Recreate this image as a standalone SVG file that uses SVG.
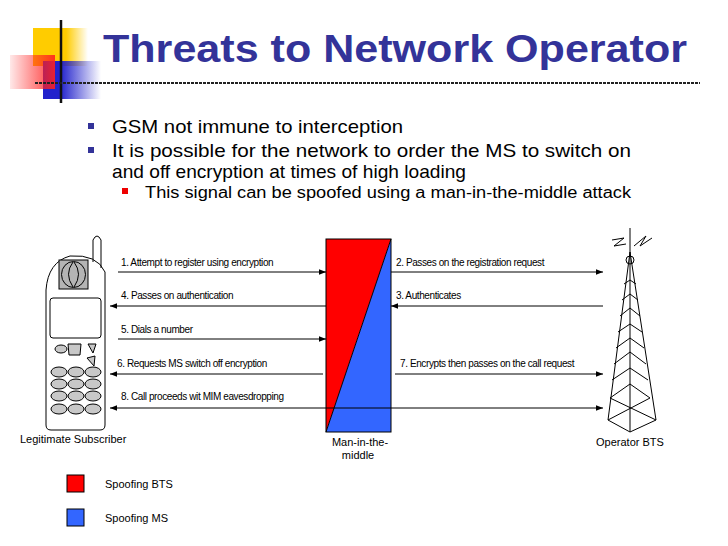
<svg xmlns="http://www.w3.org/2000/svg" width="728" height="546" viewBox="0 0 728 546">
<defs>
<style>
.t{font-family:"Liberation Sans",Arial,sans-serif}
.s{font-family:"Liberation Sans",Arial,sans-serif;font-size:10px;letter-spacing:-0.4px;fill:#000}
.c{stroke:#000;stroke-width:1;fill:none}
.k{fill:#c8c8c8;stroke:#000;stroke-width:1}
</style>
<marker id="a" viewBox="0 0 10 10" refX="10" refY="5" markerWidth="9" markerHeight="7" orient="auto-start-reverse"><path d="M0,1 L10,5 L0,9 z" fill="#000"/></marker>
<linearGradient id="gy" x1="0" x2="1"><stop offset="0.6" stop-color="#ffcc00"/><stop offset="1" stop-color="#ffcc00" stop-opacity="0"/></linearGradient>
<linearGradient id="gr" x1="1" x2="0"><stop offset="0" stop-color="#ff2020" stop-opacity="0.9"/><stop offset="1" stop-color="#ff2020" stop-opacity="0.1"/></linearGradient>
<linearGradient id="gb" x1="0" x2="1"><stop offset="0.3" stop-color="#2222cc"/><stop offset="1" stop-color="#2222cc" stop-opacity="0"/></linearGradient>
</defs>
<rect width="728" height="546" fill="#fff"/>
<g id="logo">
<rect x="33" y="28" width="55" height="38" fill="url(#gy)"/>
<rect x="43" y="61" width="58" height="38" fill="url(#gb)"/>
<rect x="10" y="55" width="45" height="34" fill="url(#gr)"/>
<line x1="61" y1="20" x2="61" y2="103" stroke="#111" stroke-width="2.5"/>
<line x1="35" y1="83" x2="700" y2="83" stroke="#222" stroke-width="2" stroke-dasharray="3,1"/>
</g>
<text class="t" x="103" y="62" font-size="39" font-weight="bold" fill="#333399" textLength="584" lengthAdjust="spacingAndGlyphs">Threats to Network Operator</text>
<g class="t" font-size="19" fill="#000">
<rect x="88" y="123" width="6" height="6" fill="#333399"/>
<text x="112" y="133" textLength="291" lengthAdjust="spacingAndGlyphs">GSM not immune to interception</text>
<rect x="88" y="147" width="6" height="6" fill="#333399"/>
<text x="112" y="157" textLength="519" lengthAdjust="spacingAndGlyphs">It is possible for the network to order the MS to switch on</text>
<text x="112" y="178" textLength="354" lengthAdjust="spacingAndGlyphs">and off encryption at times of high loading</text>
<rect x="122" y="188" width="6" height="6" fill="#ee0000"/>
<text x="145" y="198" font-size="16" textLength="486" lengthAdjust="spacingAndGlyphs">This signal can be spoofed using a man-in-the-middle attack</text>
</g>
<g id="phone">
<path class="c" d="M93,262 L93,240 Q97,232 101,240 L101,268"/>
<path class="c" d="M46,425 L46,290 Q48,262 70,256 Q97,254 105,272 L105,425 Q105,430 100,430 L51,430 Q46,430 46,425 Z"/>
<rect x="59" y="260" width="29" height="29" fill="#b4b4b4" stroke="#000"/>
<ellipse cx="73.5" cy="274.5" rx="12" ry="13" class="c"/>
<path class="c" d="M73,262 Q64,274 73,287 M74,262 Q83,274 74,287"/>
<rect x="50" y="298" width="51" height="40" rx="3" class="c"/>
<ellipse cx="61" cy="349" rx="6" ry="4" class="k"/>
<path class="k" d="M68,344 L81,344 L80,355 L69,355 Z"/>
<path class="k" d="M88,344 L96,344 L93,353 Z"/>
<path class="k" d="M87,358 L95,356 L94,366 Z"/>
<g class="k">
<ellipse cx="59" cy="372" rx="8" ry="5"/><ellipse cx="76" cy="372" rx="8" ry="5"/><ellipse cx="93" cy="372" rx="8" ry="5"/>
<ellipse cx="59" cy="384" rx="8" ry="5"/><ellipse cx="76" cy="384" rx="8" ry="5"/><ellipse cx="93" cy="384" rx="8" ry="5"/>
<ellipse cx="59" cy="396" rx="8" ry="5"/><ellipse cx="76" cy="396" rx="8" ry="5"/><ellipse cx="93" cy="396" rx="8" ry="5"/>
<ellipse cx="59" cy="409" rx="8" ry="5"/><ellipse cx="76" cy="409" rx="8" ry="5"/><ellipse cx="93" cy="409" rx="8" ry="5"/>
</g>
<text class="t" x="20" y="443" font-size="11">Legitimate Subscriber</text>
</g>
<g id="mitm">
<polygon points="326,239 391,239 326,432" fill="#ff0000"/>
<polygon points="391,239 391,432 326,432" fill="#3366ff"/>
<rect x="326" y="239" width="65" height="193" class="c"/>
<line x1="326" y1="432" x2="391" y2="239" stroke="#000"/>
<text class="t" x="360" y="446" font-size="11" text-anchor="middle">Man-in-the-</text>
<text class="t" x="358" y="459" font-size="11" text-anchor="middle">middle</text>
</g>
<g id="bts" class="c">
<path d="M630,252 L608,420 L630,432 L656,420 Z M630,252 L630,432"/>
<path d="M622,300 L630,294 L638,300 M620,316 L630,308 L640,316 M618,332 L630,324 L642,332 M616,348 L630,338 L644,348 M614,364 L630,352 L646,364 M612,380 L630,368 L648,380 M610,398 L630,384 L650,398 M624,284 L630,280 L636,284"/>
<path d="M610,398 L656,420 M650,398 L608,420"/>
<path d="M630,252 L630,228 M612,240 L624,238 L614,246 L626,244 M634,246 L646,236 L640,246 L652,238"/>
<circle cx="630" cy="260" r="4"/>
<text x="596" y="446" font-size="11" stroke="none" fill="#000" class="t">Operator BTS</text>
</g>
<g id="connectors" stroke="#000" stroke-width="1">
<line x1="118" y1="272" x2="326" y2="272" marker-end="url(#a)"/>
<line x1="391" y1="272" x2="603" y2="272" marker-end="url(#a)"/>
<line x1="326" y1="306" x2="110" y2="306" marker-end="url(#a)"/>
<line x1="603" y1="306" x2="391" y2="306" marker-end="url(#a)"/>
<line x1="118" y1="339" x2="326" y2="339" marker-end="url(#a)"/>
<line x1="323" y1="374" x2="110" y2="374" marker-end="url(#a)"/>
<line x1="395" y1="374" x2="603" y2="374" marker-end="url(#a)"/>
<line x1="110" y1="408" x2="603" y2="408" marker-start="url(#a)" marker-end="url(#a)"/>
</g>
<g>
<text class="s" x="121" y="266">1.  Attempt to register using encryption</text>
<text class="s" x="396" y="266">2.  Passes on the registration request</text>
<text class="s" x="121" y="299">4.  Passes on authentication</text>
<text class="s" x="396" y="299">3.  Authenticates</text>
<text class="s" x="121" y="333">5.  Dials a number</text>
<text class="s" x="117" y="367">6.  Requests MS switch off encryption</text>
<text class="s" x="400" y="367">7.  Encrypts then passes on the call request</text>
<text class="s" x="121" y="400">8.  Call proceeds wit MIM eavesdropping</text>
</g>
<g id="legend">
<rect x="67" y="475" width="17" height="17" fill="#ff0000" stroke="#000"/>
<text class="t" x="105" y="488" font-size="11">Spoofing BTS</text>
<rect x="67" y="509" width="17" height="17" fill="#3366ff" stroke="#000"/>
<text class="t" x="105" y="522" font-size="11">Spoofing MS</text>
</g>
</svg>
